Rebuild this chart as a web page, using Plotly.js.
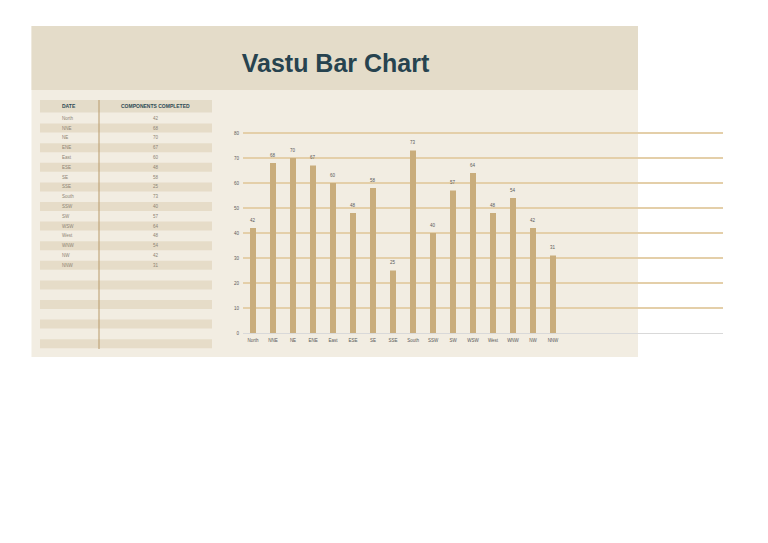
<!DOCTYPE html>
<html>
<head>
<meta charset="utf-8">
<script src="https://cdn.plot.ly/plotly-3.0.1.min.js"></script>
<style>
  html, body { margin: 0; padding: 0; background: #ffffff; }
  #chart { width: 768px; height: 543px; }
</style>
</head>
<body>
<div id="chart"></div>
<script>
// directions and completed counts, as listed in the table
const directions = ["North", "NNE", "NE", "ENE", "East", "ESE", "SE", "SSE",
  "South", "SSW", "SW", "WSW", "West", "WNW", "NW", "NNW"];
const completed = [42, 68, 70, 67, 60, 48, 58, 25, 73, 40, 57, 64, 48, 54, 42, 31];
const tableHeader = ["DATE", "COMPONENTS COMPLETED"];
const yTicks = [0, 10, 20, 30, 40, 50, 60, 70, 80];

const W = 768, H = 543;
const px = (x) => x / W;
const py = (y) => 1 - y / H;
const FONT = "Liberation Sans, Arial, sans-serif";

// page panel
let shapes = [
  { type: "rect", xref: "paper", yref: "paper", x0: px(31.5), x1: px(638), y0: py(357), y1: py(26),
    fillcolor: "#f2ede2", line: { width: 0 }, layer: "below" },
  { type: "rect", xref: "paper", yref: "paper", x0: px(31.5), x1: px(638), y0: py(90), y1: py(26),
    fillcolor: "#e4dcc9", line: { width: 0 }, layer: "below" },
  // table header band
  { type: "rect", xref: "paper", yref: "paper", x0: px(40), x1: px(212), y0: py(112.5), y1: py(100),
    fillcolor: "#e4dcc9", line: { width: 0 }, layer: "below" },
];

// striped rows: data rows plus the blank ones below
const rowCount = 24;
const rowTop = 118.3, rowPitch = 9.8;
for (let i = 0; i < rowCount; i++) {
  if (i % 2 === 1) {
    let cy = rowTop + i * rowPitch;
    shapes.push({ type: "rect", xref: "paper", yref: "paper", x0: px(40), x1: px(212),
      y0: py(cy + 4.5), y1: py(cy - 4.5), fillcolor: "#e6dcc8", line: { width: 0 }, layer: "below" });
  }
}
shapes.push({ type: "line", xref: "paper", yref: "paper", x0: px(99), x1: px(99), y0: py(349), y1: py(100),
  line: { color: "#b89a6a", width: 1 }, layer: "below" });

let annotations = [
  { xref: "paper", yref: "paper", x: px(60), y: py(106.3), xanchor: "left", yanchor: "middle",
    text: "<b>" + tableHeader[0] + "</b>", showarrow: false,
    font: { family: FONT, size: 5, color: "#2d4a55" } },
  { xref: "paper", yref: "paper", x: px(155.5), y: py(106.3), xanchor: "center", yanchor: "middle",
    text: "<b>" + tableHeader[1] + "</b>", showarrow: false,
    font: { family: FONT, size: 5, color: "#2d4a55" } },
];
directions.forEach((d, i) => {
  let cy = rowTop + i * rowPitch;
  annotations.push({ xref: "paper", yref: "paper", x: px(60), y: py(cy), xanchor: "left", yanchor: "middle",
    text: d, showarrow: false, font: { family: FONT, size: 4.5, color: "#8c8272" } });
  annotations.push({ xref: "paper", yref: "paper", x: px(155.5), y: py(cy), xanchor: "center", yanchor: "middle",
    text: String(completed[i]), showarrow: false, font: { family: FONT, size: 4.5, color: "#8c8272" } });
  // value label over each bar
  annotations.push({ xref: "x", yref: "y", x: d, y: completed[i], yshift: 8, xanchor: "center", yanchor: "middle",
    text: String(completed[i]), showarrow: false, font: { family: FONT, size: 4.5, color: "#595959" } });
});

var trace = {
  type: "bar",
  x: directions,
  y: completed,
  width: 0.3,
  marker: { color: "#c9ad7c", line: { width: 0 } },
  hoverinfo: "x+y",
};

var layout = {
  width: W,
  height: H,
  margin: { l: 0, r: 0, t: 0, b: 0 },
  paper_bgcolor: "#ffffff",
  plot_bgcolor: "rgba(0,0,0,0)",
  showlegend: false,
  title: {
    text: "<b>Vastu Bar Chart</b>",
    x: px(335.5), y: py(63), xanchor: "center", yanchor: "middle",
    xref: "paper", yref: "paper",
    font: { family: FONT, size: 25, color: "#27434f" },
  },
  xaxis: {
    domain: [px(243), px(723)],
    type: "category",
    range: [-0.5, 23.5],
    showgrid: false,
    zeroline: false,
    showline: false,
    ticks: "",
    ticklabelstandoff: 3,
    tickfont: { family: FONT, size: 4.5, color: "#595959" },
    fixedrange: true,
  },
  yaxis: {
    domain: [py(333), py(130.5)],
    range: [0, 81],
    tickvals: yTicks,
    ticktext: yTicks.map(String),
    showgrid: true,
    gridcolor: "#e4cfa9",
    gridwidth: 1.2,
    zeroline: true,
    zerolinecolor: "#d9d9d9",
    zerolinewidth: 1,
    showline: false,
    ticks: "",
    ticklabelstandoff: 3,
    tickfont: { family: FONT, size: 4.5, color: "#595959" },
    fixedrange: true,
  },
  shapes: shapes,
  annotations: annotations,
};

Plotly.newPlot("chart", [trace], layout, { displayModeBar: false, staticPlot: true });
</script>
</body>
</html>
